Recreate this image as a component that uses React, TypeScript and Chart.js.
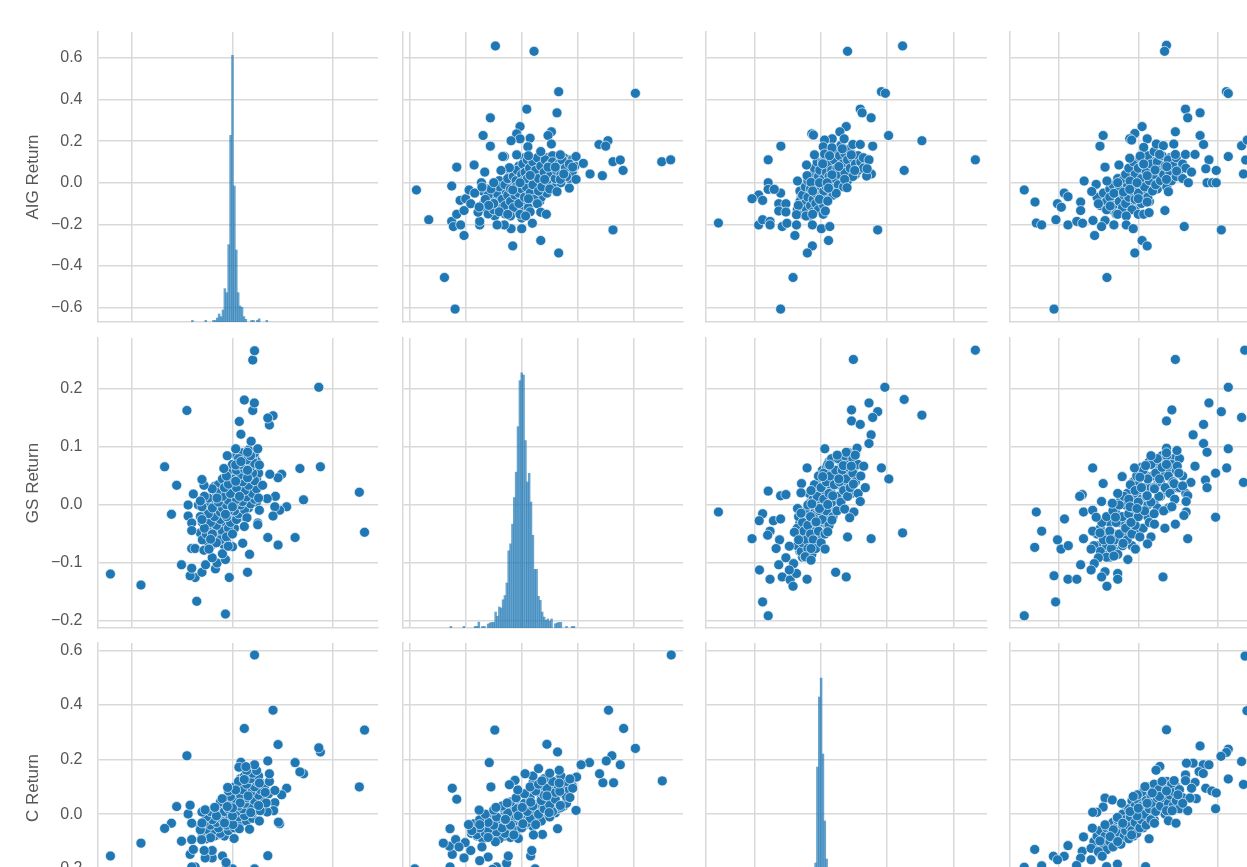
import React, { useEffect, useRef } from "react";
import { Chart, registerables } from "chart.js";

Chart.register(...registerables);

// ---- value ranges and tick values of each return variable ----
const aigRange = [-0.67, 0.725];
const gsRange = [-0.212, 0.288];
const cRange = [-0.435, 0.627];
const msRange = [-0.405, 0.482];

const aigYTicks = [-0.6, -0.4, -0.2, 0, 0.2, 0.4, 0.6];
const gsYTicks = [-0.2, -0.1, 0, 0.1, 0.2];
const cYTicks = [-0.2, 0, 0.2, 0.4, 0.6];
const aigXTicks = [-0.5, 0, 0.5];
const gsXTicks = [-0.2, -0.1, 0, 0.1, 0.2];
const cXTicks = [-0.25, 0, 0.25, 0.5];
const msXTicks = [-0.25, 0, 0.25];

const rowLabels = ["AIG Return", "GS Return", "C Return"];

// ---- histograms on the diagonal ----
const aigBins = [-0.1995, -0.133, -0.095, -0.0855, -0.076, -0.0665, -0.057, -0.0475, -0.038, -0.0285, -0.019, -0.0095, 0, 0.0095, 0.019, 0.0285, 0.038, 0.0475, 0.057, 0.0665, 0.095, 0.1045, 0.1235, 0.133, 0.171];
const aigCounts = [0.6, 0.6, 0.6, 0.6, 1.5, 3, 2, 4.5, 12.5, 11, 29, 70, 100, 51, 27, 11, 6, 5.5, 2, 1, 0.6, 0.6, 0.6, 1.2, 0.6];
const gsBins = [-0.1265, -0.1032, -0.0833, -0.08, -0.0766, -0.07, -0.0666, -0.06, -0.0566, -0.0533, -0.05, -0.0466, -0.0433, -0.04, -0.0366, -0.0333, -0.03, -0.0266, -0.0233, -0.02, -0.0166, -0.0133, -0.01, -0.0067, -0.0033, 0, 0.0033, 0.0067, 0.01, 0.0133, 0.0166, 0.02, 0.0233, 0.0266, 0.03, 0.0333, 0.0366, 0.04, 0.0433, 0.0466, 0.05, 0.0533, 0.06, 0.0633, 0.0666, 0.07, 0.08, 0.09, 0.0933];
const gsCounts = [0.6, 0.6, 0.6, 0.6, 2.2, 0.6, 0.6, 1.5, 1.9, 2.1, 2.1, 6, 4.4, 7.9, 7.5, 10.6, 12.2, 16.9, 29, 31.6, 39, 49, 58.5, 75.6, 92.9, 95.8, 95, 70.4, 54.8, 58.1, 47.3, 34.8, 22, 22, 11.9, 10.4, 6, 4.1, 2.9, 3.4, 2.6, 3.4, 1.6, 1.9, 2.1, 2.1, 0.6, 0.6, 0.6];
const cBins = [-0.035, -0.028, -0.021, -0.014, -0.007, 0, 0.007, 0.014, 0.021, 0.028, 0.035];
const cCounts = [8, 30, 70, 166, 236, 255, 179, 112, 74, 35, 15];

// ---- scatter points, one list per pair of variables: [x, y] ----
const gsAig = [
  [-.068,-.1],[-.062,-.03],[-.058,-.13],[-.052,-.07],[-.048,-.16],[-.042,-.04],[-.038,-.1],[-.033,.0],[-.028,-.13],[-.022,-.06],[-.018,.02],[-.012,-.11],[-.008,-.03],[-.002,.06],[.004,-.13],[.009,.05],[.013,-.07],[.017,.11],[.023,-.02],[.027,.09],[.032,-.09],[.038,.06],[.043,-.02],[.047,.1],[.053,.02],[.058,.07],[.064,-.01],[.069,.12],[.076,.05],[.083,.11],
  [-.07,-.04],[-.07,-.12],[-.06,-.15],[-.05,-.13],[-.045,-.02],[-.04,-.07],[-.04,.01],[-.035,-.12],[-.03,-.04],[-.03,-.15],[-.025,-.09],[-.02,0],[-.02,.04],[-.015,-.05],[-.01,-.08],[-.01,-.14],[-.005,.02],[-.005,.08],[0,-.01],[0,-.06],[0,-.11],[.005,.03],[.005,.12],[.01,-.04],[.01,-.09],[.015,.01],[.015,.08],[.02,.05],[.02,-.03],[.025,-.06],[.025,.11],[.03,0],[.03,.07],[.035,.04],[.035,-.07],[.04,.02],[.04,.09],[.045,-.05],[.045,.12],[.05,.06],[.05,0],[.055,.03],[.055,.13],[.06,.09],[.06,-.02],[.065,.05],[.07,.08],[.07,0],[.075,.12],[.08,.06],[.08,.1],[.085,.02],[.09,.05],[.09,.11],[.095,.08],
  [-.045,-.05],[-.04,-.02],[-.035,-.08],[-.03,-.01],[-.03,-.11],[-.025,.02],[-.025,-.06],[-.02,-.03],[-.02,-.09],[-.015,.03],[-.015,-.12],[-.012,-.06],[-.01,.01],[-.01,-.02],[-.008,.06],[-.005,-.05],[-.005,-.1],[0,.04],[0,-.03],[.002,.09],[.003,.01],[.005,-.07],[.006,.05],[.008,-.02],[.01,.11],[.01,.02],[.012,-.12],[.014,.07],[.015,-.05],[.018,.03],[.02,.1],[.02,-.01],[.022,-.08],[.025,.06],[.028,.12],[.03,.02],[.03,-.04],[.034,.08],[.036,-.02],[.04,.05],[.042,.11],[.045,.01],[.048,.08],[.05,-.03],[.052,.04],[.055,.1],[.06,.02],[.062,.06],[.066,.09],[.07,.04],[.072,.11],[.078,.07],[.08,.03],[.085,.09],[-.06,-.06],[-.055,-.03],[-.05,-.1],[-.065,-.08],[-.05,0],[-.04,-.14],[-.02,-.16],[0,-.17],[.015,-.14],
  [-.047,.658],[.022,.632],[.066,.438],[.203,.43],[.009,.354],[.063,.336],[-.056,.312],[-.003,.27],[-.069,.227],[.053,.245],[.047,.227],[-.009,.235],[.015,.214],[-.003,.211],[-.019,.202],[-.056,.176],[.053,.186],[.011,.173],[.154,.202],[.138,.184],[.15,.176],[-.031,.126],[-.034,.126],[-.009,.134],[.012,.13],[.034,.15],[.069,.134],[.097,.126],[.11,.093],[.163,.101],[.176,.109],[.181,.059],[.25,.101],[.266,.11],[.122,.042],[.144,.034],[.097,.016],[.091,.075],[.085,-.026],[.069,.016],[-.116,.075],[-.085,.085],[-.066,.051],[-.125,-.016],[-.188,-.035],[-.166,-.178],[-.125,-.186],[-.122,-.211],[-.109,-.203],[-.103,-.254],[-.138,-.456],[-.119,-.608],[.163,-.227],[.066,-.338],[-.016,-.304],[.034,-.278],[0,-.221],[-.019,-.221],[.019,-.195],[-.031,-.203],[-.044,-.203],[-.075,-.203],[-.075,-.186],[-.116,-.152],[-.103,-.134],[-.078,-.142],[-.11,-.085],[-.1,-.077],[-.091,-.101],[-.094,-.035],[-.084,-.05],[-.072,0],[-.071,-.021],[-.059,-.109],[-.076,-.117],[-.025,-.152],[-.003,-.152],[.012,-.077],[.028,-.101],[.034,-.142],[.044,-.152],[.007,-.16],[.063,-.043],[-.016,-.035],[-.003,0],[.041,.016],[.047,.075],[.015,.035],[-.022,.072],[-.037,.059],[.06,.075],[.075,.042],
];

const cAig = [
  [-.075,-.13],[-.065,-.08],[-.058,-.16],[-.052,-.05],[-.043,-.1],[-.036,-.01],[-.028,-.12],[-.022,-.03],[-.012,.05],[-.006,-.1],[.003,.04],[.012,-.07],[.018,.1],[.028,.01],[.037,.13],[.048,-.04],[.058,.1],[.068,.02],[.083,.15],[.095,.07],[.108,.13],[.118,.09],
  [-.085,-.11],[-.08,-.15],[-.075,-.07],[-.065,-.13],[-.06,-.05],[-.055,-.09],[-.05,-.03],[-.05,-.12],[-.045,-.01],[-.04,-.07],[-.04,.02],[-.035,-.13],[-.03,-.05],[-.03,0],[-.025,-.1],[-.02,.02],[-.02,.06],[-.015,-.03],[-.015,-.08],[-.01,0],[-.01,.08],[-.005,-.05],[0,.02],[0,.1],[.005,-.03],[.005,-.09],[.01,.05],[.015,-.01],[.015,.08],[.02,0],[.02,.14],[.025,.03],[.025,-.05],[.03,.06],[.03,.12],[.035,-.02],[.04,.02],[.04,.1],[.045,.05],[.045,.14],[.05,-.02],[.055,.08],[.06,.02],[.06,.13],[.065,.05],[.07,.09],[.075,0],[.08,.06],[.08,.12],[.085,.03],[.09,.09],[.095,.16],[.1,.06],[.105,.03],[.11,.1],[.115,.14],[.12,.06],[.125,.1],[.13,.04],[.135,.12],
  [-.09,-.13],[-.08,-.09],[-.08,-.04],[-.07,-.15],[-.07,-.11],[-.07,-.06],[-.06,-.02],[-.06,-.1],[-.055,-.13],[-.05,.01],[-.05,-.07],[-.045,-.16],[-.04,-.03],[-.04,-.11],[-.03,.04],[-.03,-.08],[-.03,-.14],[-.025,.07],[-.02,-.01],[-.02,-.05],[-.02,-.1],[-.015,.1],[-.01,.03],[-.01,-.13],[-.005,.06],[0,-.02],[0,-.07],[.005,.1],[.01,.02],[.01,-.04],[.01,-.11],[.015,.12],[.02,.05],[.02,-.02],[.025,-.09],[.03,.09],[.03,.03],[.035,.15],[.04,-.01],[.04,.06],[.045,-.06],[.05,.11],[.05,.02],[.055,.16],[.06,.07],[.065,-.01],[.07,.13],[.07,.04],[.075,.18],[.08,.09],[.085,-.02],[.09,.14],[.09,.05],[.1,.11],[.1,.01],[.105,.16],[.11,.07],[.12,.12],[.12,.03],[.13,.09],[.14,.13],[.14,.06],[.15,.1],[.16,.07],[.16,.12],
  [.308,.658],[.1,.632],[.228,.438],[.243,.43],[.148,.354],[.155,.336],[.189,.312],[.095,.27],[.071,.245],[-.035,.235],[-.029,.229],[.255,.227],[.381,.202],[.042,.211],[.013,.205],[.087,.211],[-.152,.176],[.12,.184],[.148,.184],[.195,.176],[.008,.173],[.041,.168],[.08,.163],[.583,.11],[-.2,.11],[.181,.11],[.314,.059],[.19,.042],[.172,.032],[.174,.067],[.114,.134],[-.025,.134],[.013,.138],[.032,.13],[-.055,.085],[.006,.091],[.067,.078],[.127,.059],[.041,.038],[-.053,.034],[-.2,0],[-.2,-.032],[-.089,.008],[-.038,.002],[-.006,0],[.023,0],[.089,.016],[.098,-.024],[.057,-.051],[.028,-.026],[-.032,-.04],[-.006,-.08],[-.236,-.059],[-.261,-.077],[-.221,-.085],[-.153,-.05],[-.177,-.032],[-.16,-.101],[-.133,-.101],[-.086,-.109],[-.16,-.136],[-.133,-.141],[-.093,-.154],[-.057,-.16],[-.032,-.152],[.008,-.152],[.016,-.136],[.025,-.088],[-.388,-.194],[-.236,-.203],[-.221,-.178],[-.193,-.186],[-.193,-.203],[-.147,-.211],[-.129,-.195],[-.093,-.203],[-.033,-.203],[.001,-.221],[.033,-.211],[-.099,-.254],[-.033,-.304],[.028,-.278],[-.052,-.338],[-.106,-.456],[-.153,-.608],[.214,-.227],
];

const msAig = [
  [-.125,-.1],[-.115,-.07],[-.095,-.05],[-.083,-.09],[-.073,-.07],[-.063,-.13],[-.055,-.05],[-.043,-.11],[-.033,-.04],[-.023,.03],[-.012,-.05],[-.003,.03],[.007,-.07],[.018,.07],[.028,-.01],[.043,.04],[.052,.11],[.063,.01],[.078,.07],[.092,.05],[.108,.1],[.118,.05],
  [-.12,-.08],[-.11,-.1],[-.105,-.12],[-.1,-.06],[-.09,-.1],[-.085,-.13],[-.08,-.05],[-.075,-.09],[-.07,-.02],[-.07,-.12],[-.06,-.06],[-.055,0],[-.05,-.09],[-.05,-.04],[-.045,.03],[-.04,-.06],[-.04,-.13],[-.03,-.01],[-.03,-.1],[-.025,.04],[-.02,-.07],[-.02,.07],[-.015,-.02],[-.01,.01],[-.01,-.12],[-.005,.05],[0,-.02],[0,-.09],[0,.1],[.005,.02],[.01,-.05],[.015,.05],[.02,.11],[.02,0],[.025,-.04],[.03,.07],[.035,.03],[.035,-.09],[.04,.12],[.04,-.01],[.045,.06],[.05,.01],[.055,.09],[.06,.03],[.06,-.03],[.065,.12],[.07,.06],[.075,.02],[.08,.1],[.085,.05],[.09,.02],[.095,.08],[.1,.12],[.105,.06],[.11,.03],[.12,.08],[.125,.05],
  [-.13,-.07],[-.12,-.11],[-.11,-.05],[-.1,-.09],[-.1,-.13],[-.09,-.03],[-.09,-.07],[-.08,-.11],[-.08,-.01],[-.07,-.05],[-.07,-.15],[-.065,.02],[-.06,-.09],[-.06,-.03],[-.05,-.12],[-.05,.01],[-.045,-.06],[-.04,.04],[-.04,-.1],[-.035,-.02],[-.03,.07],[-.03,-.07],[-.02,.01],[-.02,-.13],[-.02,-.04],[-.015,.1],[-.01,.04],[-.01,-.08],[-.005,-.01],[0,.07],[0,-.05],[.005,.12],[.01,.02],[.01,-.1],[.015,.09],[.02,-.02],[.025,.05],[.03,-.07],[.03,.13],[.035,.01],[.04,.09],[.045,-.04],[.05,.04],[.05,.15],[.055,-.01],[.06,.1],[.065,.06],[.07,.01],[.075,.13],[.08,.04],[.085,.08],[.09,-.02],[.095,.11],[.1,.05],[.105,.01],[.11,.08],[.12,.03],[.12,.12],[.13,.06],[.14,.09],[.14,.02],[.15,.07],
  [.089,.661],[.083,.632],[.278,.438],[.284,.429],[.149,.354],[.195,.336],[.156,.312],[.012,.27],[-.011,.237],[-.111,.227],[.117,.245],[.195,.227],[-.027,.211],[-.021,.205],[.028,.211],[.326,.178],[.344,.205],[-.121,.176],[.017,.17],[.057,.186],[.079,.178],[.112,.186],[.206,.184],[-.027,.118],[.006,.128],[.067,.136],[.117,.136],[.149,.136],[.179,.136],[.223,.11],[.339,.109],[.284,.126],[-.105,.075],[-.061,.085],[.017,.09],[.053,.061],[.09,.077],[.121,.056],[.168,.051],[.213,.067],[.246,.059],[.332,.042],[.028,.034],[-.171,.008],[-.099,.008],[-.133,-.008],[-.065,0],[-.026,.008],[-.004,0],[.089,.016],[.158,0],[.217,0],[.234,0],[.246,0],[-.36,-.035],[-.234,-.05],[-.222,-.067],[-.326,-.093],[-.255,-.101],[-.243,-.118],[-.182,-.093],[-.182,-.134],[-.147,-.042],[-.126,-.101],[-.077,-.051],[-.047,-.045],[-.027,-.032],[0,-.077],[.028,-.093],[.095,-.043],[.084,-.134],[-.089,-.112],[-.065,-.152],[-.038,-.16],[0,-.152],[.017,-.152],[.034,-.144],[-.322,-.194],[-.305,-.203],[-.26,-.178],[-.222,-.203],[-.194,-.186],[-.176,-.195],[-.143,-.182],[-.105,-.182],[-.116,-.211],[-.077,-.203],[-.038,-.203],[-.016,-.221],[-.138,-.254],[.012,-.278],[.028,-.304],[-.011,-.338],[-.099,-.456],[-.266,-.608],[.145,-.211],[.262,-.227],
];

const cGs = [
  [-.085,-.05],[-.08,-.03],[-.08,-.08],[-.07,-.05],[-.07,-.09],[-.065,-.02],[-.06,-.07],[-.06,-.035],[-.055,-.08],[-.05,-.05],[-.05,-.015],[-.045,-.065],[-.04,.005],[-.04,-.08],[-.035,-.035],[-.03,-.015],[-.03,-.05],[-.025,.015],[-.025,-.07],[-.02,.03],[-.02,-.045],[-.015,-.015],[-.01,.01],[-.01,-.065],[-.005,.04],[-.005,-.03],[0,-.005],[0,-.05],[.005,.02],[.005,.06],[.01,-.03],[.015,.035],[.015,-.015],[.02,.065],[.02,.01],[.025,-.035],[.03,.04],[.03,.075],[.035,0],[.04,.03],[.04,.06],[.045,.015],[.05,.055],[.05,.08],[.055,-.01],[.06,.035],[.065,.06],[.07,.015],[.075,.075],[.08,.04],[.085,.06],[.09,.02],[.095,.07],[.1,.04],[.105,.09],[.11,.055],[.115,.02],[.125,.065],[.13,.09],
  [-.09,-.04],[-.09,-.07],[-.085,-.02],[-.08,-.055],[-.075,-.08],[-.07,-.03],[-.07,-.065],[-.065,-.045],[-.06,-.01],[-.06,-.09],[-.055,-.06],[-.05,0],[-.05,-.035],[-.05,-.075],[-.045,.02],[-.04,-.05],[-.04,-.02],[-.035,-.085],[-.03,.01],[-.03,-.06],[-.025,.035],[-.02,-.03],[-.02,-.075],[-.015,.015],[-.01,.05],[-.01,-.045],[-.005,-.01],[0,.03],[0,-.065],[.005,-.025],[.01,.055],[.01,.01],[.015,-.05],[.02,.04],[.02,-.01],[.025,.07],[.03,.02],[.03,-.035],[.035,.05],[.04,.005],[.04,.08],[.045,-.02],[.05,.035],[.055,.06],[.06,.015],[.06,-.01],[.065,.08],[.07,.04],[.075,.005],[.08,.06],[.085,.025],[.09,.085],[.095,.045],[.1,.015],[.105,.065],[.11,.03],[.12,.055],[.12,.08],[.13,.04],[.14,.07],[.14,.02],[.15,.05],
  [.583,.267],[.122,.251],[.241,.203],[.314,.182],[.181,.176],[.115,.164],[.214,.161],[.195,.151],[.381,.155],[.115,.145],[.148,.139],[.189,.121],[.181,.106],[.014,.097],[.136,.098],[.095,.091],[.129,.086],[.061,.086],[.032,.069],[-.053,.064],[.084,.068],[.114,.067],[.161,.067],[.228,.064],[.256,.045],[.067,.045],[.006,.049],[.167,.03],[.122,.036],[-.074,.037],[-.038,.025],[-.076,.021],[-.2,.024],[-.153,.016],[-.133,.018],[.044,.016],[.148,.006],[-.006,-.006],[-.035,.002],[.025,.001],[-.089,-.006],[.089,-.007],[.124,-.012],[.108,-.022],[-.388,-.012],[-.221,-.015],[-.234,-.027],[-.18,-.027],[-.153,-.024],[-.076,-.014],[-.019,-.029],[.041,-.026],[-.193,-.045],[-.202,-.052],[-.261,-.058],[-.157,-.06],[-.101,-.047],[-.085,-.06],[.025,-.046],[.1,-.055],[.189,-.058],[.308,-.048],[-.038,-.075],[.015,-.076],[-.17,-.075],[-.12,-.071],[-.06,-.089],[-.038,-.095],[-.133,-.091],[-.16,-.103],[-.104,-.101],[-.233,-.112],[-.193,-.128],[-.147,-.124],[-.117,-.129],[-.093,-.118],[-.053,-.128],[-.12,-.112],[-.106,-.14],[-.221,-.167],[-.2,-.191],[.055,-.116],[.095,-.124],
];

const msGs = [
  [-.13,-.07],[-.12,-.04],[-.11,-.08],[-.105,-.05],[-.1,-.07],[-.09,-.03],[-.09,-.09],[-.08,-.05],[-.08,-.07],[-.07,-.015],[-.07,-.08],[-.06,-.03],[-.06,-.06],[-.055,.01],[-.05,-.05],[-.045,-.03],[-.04,0],[-.04,-.065],[-.035,.02],[-.03,-.035],[-.025,-.01],[-.02,.01],[-.02,-.07],[-.015,.04],[-.01,-.02],[-.01,-.05],[-.005,.02],[0,-.04],[0,.035],[.005,-.01],[.01,.065],[.01,.01],[.015,-.04],[.02,.03],[.025,.05],[.03,0],[.03,-.02],[.035,.075],[.04,.03],[.045,.05],[.05,.005],[.05,.07],[.06,.035],[.06,-.005],[.065,.06],[.07,.015],[.075,.085],[.08,.05],[.085,.07],[.09,.025],[.095,-.005],[.1,.06],[.105,.035],[.11,.08],[.12,.03],[.125,.055],
  [-.14,-.07],[-.13,-.05],[-.12,-.08],[-.115,-.03],[-.11,-.06],[-.1,-.09],[-.1,-.02],[-.09,-.045],[-.085,-.075],[-.08,-.01],[-.075,-.06],[-.07,-.03],[-.065,-.085],[-.06,0],[-.06,-.05],[-.05,-.02],[-.05,-.07],[-.045,.015],[-.04,-.04],[-.035,-.06],[-.03,.01],[-.03,-.015],[-.025,.035],[-.02,-.05],[-.015,-.005],[-.01,.025],[-.01,-.035],[-.005,.05],[0,.005],[0,-.02],[.005,-.055],[.01,.03],[.015,.06],[.02,-.01],[.025,.015],[.03,.045],[.035,-.03],[.04,.07],[.04,.005],[.05,.03],[.05,-.015],[.055,.055],[.06,.08],[.065,.015],[.07,.04],[.075,.065],[.08,-.01],[.085,.03],[.09,.085],[.095,.05],[.1,.02],[.105,.07],[.11,.04],[.115,.01],[.12,.06],[.13,.03],[.13,.08],[.14,.05],[.15,.02],
  [.336,.267],[.117,.251],[.284,.203],[.223,.176],[.106,.164],[.262,.161],[.326,.151],[.089,.145],[.206,.139],[.173,.121],[.206,.106],[.089,.098],[.122,.094],[.217,.091],[.284,.097],[.089,.09],[.04,.085],[-.144,.064],[-.012,.064],[.023,.068],[.089,.07],[.123,.067],[.179,.067],[.279,.064],[.332,.039],[.244,.055],[.212,.043],[.217,.03],[.166,.039],[.128,.055],[-.111,.037],[-.177,.018],[-.185,.015],[-.051,.049],[.005,.048],[.067,.045],[.113,.037],[.14,.033],[.156,.016],[.028,.016],[.051,.028],[-.065,.02],[-.116,.006],[-.082,.003],[-.026,-.003],[-.004,-.006],[.151,.006],[.106,-.003],[-.322,-.012],[-.233,-.024],[-.173,-.012],[-.144,-.009],[-.133,-.021],[-.072,-.021],[-.023,-.03],[.051,-.033],[.244,-.021],[.151,-.012],[.144,-.018],[.117,-.033],[.084,-.04],[-.305,-.045],[-.144,-.045],[-.121,-.048],[-.173,-.058],[-.255,-.06],[-.327,-.073],[-.244,-.076],[-.221,-.07],[-.088,-.06],[-.048,-.066],[.04,-.055],[.029,-.067],[.156,-.058],[-.009,-.076],[-.033,-.094],[-.077,-.088],[-.149,-.076],[-.126,-.091],[-.182,-.103],[-.139,-.101],[-.149,-.112],[-.105,-.115],[-.266,-.122],[-.222,-.128],[-.194,-.128],[-.116,-.124],[-.065,-.118],[-.065,-.128],[-.099,-.14],[-.261,-.167],[-.36,-.191],[.078,-.124],
];

const msC = [
  [-.135,-.12],[-.12,-.1],[-.115,-.13],[-.11,-.07],[-.1,-.09],[-.095,-.12],[-.09,-.06],[-.085,-.11],[-.08,-.08],[-.075,-.05],[-.07,-.11],[-.065,-.07],[-.06,-.03],[-.06,-.1],[-.05,-.06],[-.05,-.09],[-.045,-.02],[-.04,-.04],[-.04,.01],[-.035,-.07],[-.03,0],[-.025,-.05],[-.02,-.02],[-.02,.03],[-.015,-.08],[-.01,0],[-.005,.06],[-.005,-.04],[0,.02],[.005,-.02],[.01,.05],[.015,0],[.015,-.05],[.02,.07],[.025,.02],[.03,-.02],[.03,.05],[.035,.09],[.04,.01],[.045,.06],[.05,.03],[.05,-.02],[.055,.09],[.06,.02],[.065,.05],[.07,.1],[.075,.01],[.08,.08],[.085,.04],[.09,.06],[.09,.12],[.095,.01],[.1,.09],[.105,.04],[.11,.07],[.12,.1],[.125,.07],
  [-.14,-.1],[-.13,-.08],[-.125,-.14],[-.12,-.06],[-.11,-.11],[-.105,-.08],[-.1,-.13],[-.1,-.05],[-.09,-.1],[-.085,-.07],[-.08,-.03],[-.08,-.12],[-.07,-.05],[-.07,-.09],[-.065,-.02],[-.06,-.07],[-.055,-.11],[-.05,-.04],[-.05,0],[-.045,-.08],[-.04,-.02],[-.04,-.06],[-.03,.02],[-.03,-.04],[-.03,-.09],[-.025,-.01],[-.02,.05],[-.02,-.06],[-.015,.01],[-.01,-.03],[-.01,.03],[-.005,-.07],[0,0],[0,.05],[.005,-.05],[.01,.03],[.01,-.02],[.015,.08],[.02,0],[.025,.05],[.025,-.04],[.03,.1],[.035,.02],[.04,.07],[.04,-.02],[.045,.04],[.05,.11],[.055,.01],[.06,.06],[.065,.09],[.07,.03],[.075,.12],[.08,.06],[.085,0],[.09,.09],[.095,.04],[.1,.07],[.105,.11],[.11,.03],[.115,.08],[.12,.05],[.13,.09],[.13,.02],[.14,.06],
  [.337,.579],[.343,.379],[.089,.309],[.195,.25],[.284,.238],[.278,.226],[.261,.212],[.326,.193],[.332,.109],[.173,.187],[.152,.187],[.205,.181],[.223,.181],[.192,.156],[.205,.149],[.068,.175],[.056,.161],[.284,.129],[.113,.123],[.179,.116],[.149,.144],[.149,.123],[.168,.095],[.213,.095],[.232,.085],[.246,.078],[.183,.057],[.163,.059],[.244,.02],[.156,.013],[.14,.04],[.125,.071],[.067,.065],[.089,.085],[.021,.101],[.044,.078],[-.003,.071],[.028,.04],[.089,.013],[.107,.013],[.095,-.024],[.119,-.033],[.051,-.033],[-.004,-.006],[-.026,.01],[0,.022],[-.105,.059],[-.082,.052],[-.111,.026],[-.131,.007],[-.144,.007],[-.053,.04],[-.016,.065],[-.066,-.012],[-.079,-.057],[-.049,-.033],[-.105,-.039],[-.145,-.051],[-.173,-.083],[-.121,-.098],[-.089,-.082],[-.065,-.1],[-.021,-.076],[.034,-.09],[-.222,-.115],[-.327,-.129],[-.177,-.136],[-.149,-.125],[-.126,-.137],[-.268,-.154],[-.234,-.154],[-.255,-.167],[-.182,-.161],[-.149,-.167],[-.114,-.154],[-.36,-.194],[-.305,-.189],[-.195,-.188],[-.1,-.192],[-.066,-.183],[.023,-.192],
];

// ---- page geometry of the small-multiple grid ----
const colEdges = [[98, 378], [403, 683], [706, 987], [1010, 1291]];
const rowEdges = [[32, 322], [338, 628], [643, 933]];
const yAxisWidth = 98;
const pad = 2;

const GRID = "#d9d9d9";
const TEXT = "#565656";
const BLUE = "#1f77b4";
const HIST = "rgba(31,119,180,0.68)";
const FONT = "'Liberation Sans', Arial, sans-serif";

const xVars = [
  { range: aigRange, ticks: aigXTicks },
  { range: gsRange, ticks: gsXTicks },
  { range: cRange, ticks: cXTicks },
  { range: msRange, ticks: msXTicks },
];
const yVars = [
  { range: aigRange, ticks: aigYTicks },
  { range: gsRange, ticks: gsYTicks },
  { range: cRange, ticks: cYTicks },
];

const swap = (pts: number[][]) => pts.map(([a, b]) => [b, a]);
const toXY = (pts: number[][]) => pts.map(([x, y]) => ({ x, y }));

type Cell =
  | { kind: "scatter"; pts: number[][] }
  | { kind: "hist"; bins: number[]; counts: number[]; top: number };

const cells: Cell[][] = [
  [
    { kind: "hist", bins: aigBins, counts: aigCounts, top: 108.75 },
    { kind: "scatter", pts: gsAig },
    { kind: "scatter", pts: cAig },
    { kind: "scatter", pts: msAig },
  ],
  [
    { kind: "scatter", pts: swap(gsAig) },
    { kind: "hist", bins: gsBins, counts: gsCounts, top: 108.9 },
    { kind: "scatter", pts: cGs },
    { kind: "scatter", pts: msGs },
  ],
  [
    { kind: "scatter", pts: swap(cAig) },
    { kind: "scatter", pts: swap(cGs) },
    { kind: "hist", bins: cBins, counts: cCounts, top: 290 },
    { kind: "scatter", pts: msC },
  ],
];

const fmt = (v: number) => {
  const s = Math.abs(v).toFixed(1);
  return v < 0 ? "\u2212" + s : s;
};

function zeroPadding(s: any) {
  s.paddingTop = 0;
  s.paddingBottom = 0;
  s.paddingLeft = 0;
  s.paddingRight = 0;
}

function buildConfig(r: number, c: number): any {
  const cell = cells[r][c];
  const first = c === 0;
  const xv = xVars[c];
  const yv = yVars[r];
  const scales: any = {
    x: {
      type: "linear",
      min: xv.range[0],
      max: xv.range[1],
      offset: false,
      afterBuildTicks: (s: any) => {
        s.ticks = xv.ticks.map((value) => ({ value }));
      },
      afterFit: (s: any) => {
        s.height = 0;
        zeroPadding(s);
      },
      ticks: { display: false, autoSkip: false },
      grid: { color: GRID, lineWidth: 1.5, drawTicks: false, offset: false },
      border: { display: true, color: GRID, width: 1.5 },
    },
    y: {
      type: "linear",
      min: yv.range[0],
      max: yv.range[1],
      afterBuildTicks: (s: any) => {
        s.ticks = yv.ticks.map((value) => ({ value }));
      },
      afterFit: (s: any) => {
        s.width = first ? yAxisWidth : pad;
        zeroPadding(s);
      },
      ticks: {
        display: first,
        autoSkip: false,
        padding: 15.5,
        color: TEXT,
        font: { family: FONT, size: 16 },
        callback: (v: any) => fmt(Number(v)),
      },
      title: first
        ? {
            display: true,
            text: rowLabels[r],
            color: TEXT,
            font: { family: FONT, size: 17 },
            padding: { top: 23, bottom: 0 },
          }
        : { display: false },
      grid: { color: GRID, lineWidth: 1.5, drawTicks: false },
      border: { display: true, color: GRID, width: 1.5 },
    },
  };
  let type: string;
  let datasets: any[];
  if (cell.kind === "hist") {
    type = "bar";
    scales.count = { type: "linear", display: false, min: 0, max: cell.top };
    const counts = cell.counts;
    datasets = [
      {
        data: cell.bins.map((x, i) => ({ x, y: counts[i] })),
        yAxisID: "count",
        backgroundColor: HIST,
        borderWidth: 0,
        barPercentage: 1,
        categoryPercentage: 1,
      },
    ];
  } else {
    type = "scatter";
    datasets = [
      {
        data: toXY(cell.pts),
        backgroundColor: BLUE,
        borderColor: "rgba(255,255,255,0.8)",
        borderWidth: 0.8,
        pointRadius: 5,
        pointHoverRadius: 5,
      },
    ];
  }
  return {
    type,
    data: { datasets },
    options: {
      animation: false,
      responsive: false,
      maintainAspectRatio: false,
      events: [],
      layout: { autoPadding: false, padding: { top: pad, right: pad, bottom: pad, left: 0 } },
      plugins: { legend: { display: false }, tooltip: { enabled: false } },
      scales,
    },
  };
}

function Panel({ r, c }: { r: number; c: number }) {
  const ref = useRef<HTMLCanvasElement | null>(null);
  const axisW = c === 0 ? yAxisWidth : pad;
  const left = colEdges[c][0] - axisW;
  const top = rowEdges[r][0] - pad;
  const width = colEdges[c][1] - colEdges[c][0] + axisW + pad;
  const height = rowEdges[r][1] - rowEdges[r][0] + pad * 2;
  useEffect(() => {
    if (!ref.current) return;
    const chart = new Chart(ref.current, buildConfig(r, c));
    return () => chart.destroy();
  }, [r, c]);
  return (
    <canvas
      ref={ref}
      width={width}
      height={height}
      style={{ position: "absolute", left, top, width, height, display: "block" }}
    />
  );
}

export default function App() {
  return (
    <div
      style={{
        position: "fixed",
        left: 0,
        top: 0,
        width: 1247,
        height: 867,
        overflow: "hidden",
        background: "#fff",
        filter: "blur(0.45px)",
      }}
    >
      {rowEdges.map((_, r) =>
        colEdges.map((__, c) => <Panel key={`${r}-${c}`} r={r} c={c} />)
      )}
    </div>
  );
}
